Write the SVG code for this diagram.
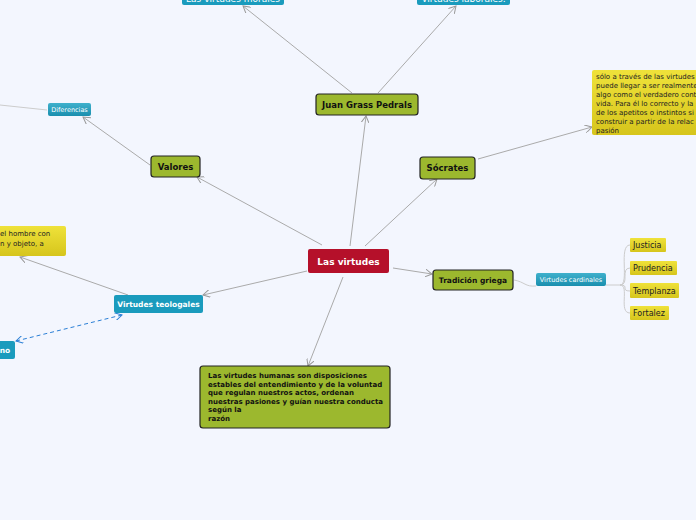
<svg xmlns="http://www.w3.org/2000/svg" width="696" height="520" viewBox="0 0 696 520">
<defs>
<marker id="a" markerWidth="8" markerHeight="8" refX="7" refY="4" orient="auto" markerUnits="userSpaceOnUse"><path d="M0,0 L7,4 L0,8" fill="none" stroke="#999" stroke-width="1"/></marker>
<marker id="b" markerWidth="8" markerHeight="8" refX="7" refY="4" orient="auto-start-reverse" markerUnits="userSpaceOnUse"><path d="M0,0 L7,4 L0,8" fill="none" stroke="#2a7fd6" stroke-width="1"/></marker>
<linearGradient id="y" x1="0" y1="0" x2="0" y2="1"><stop offset="0" stop-color="#efe23a"/><stop offset="1" stop-color="#d6c51c"/></linearGradient>
<linearGradient id="bl" x1="0" y1="0" x2="0" y2="1"><stop offset="0" stop-color="#3fb0cc"/><stop offset="1" stop-color="#1a8fae"/></linearGradient>
</defs>
<style>
text{font-family:"DejaVu Sans","Liberation Sans",sans-serif}
.g{fill:#9cb82e;stroke:#222;stroke-width:1.2}
.bt{fill:#1a9bbd}
.bs{fill:url(#bl)}
.yl{fill:url(#y)}
.c{stroke:#aaa;stroke-width:1;fill:none;marker-end:url(#a)}
.c2{stroke:#ccc;stroke-width:1;fill:none}
.tb{font-size:8.5px;font-weight:bold;fill:#111;text-anchor:middle}
.tw{font-size:7.5px;font-weight:bold;fill:#fff;text-anchor:middle}
.ts{font-size:6.5px;fill:#fff;text-anchor:middle}
.ty{font-size:8px;fill:#222}
.tn{font-size:7px;fill:#222}
</style>
<rect width="696" height="520" fill="#f3f6fe"/>
<g id="connectors">
<line class="c" x1="350" y1="246" x2="366" y2="116"/>
<line class="c" x1="365" y1="246" x2="437" y2="179"/>
<line class="c" x1="322" y1="245" x2="197" y2="177"/>
<line class="c" x1="393" y1="268" x2="432" y2="274"/>
<line class="c" x1="307" y1="271" x2="203" y2="295"/>
<line class="c" x1="343" y1="277" x2="308" y2="366"/>
<line class="c" x1="352" y1="93" x2="243" y2="6"/>
<line class="c" x1="378" y1="93" x2="456" y2="6"/>
<line class="c" x1="478" y1="159" x2="592" y2="127"/>
<line class="c" x1="150" y1="165" x2="83" y2="117"/>
<line class="c2" x1="47" y1="110" x2="0" y2="105"/>
<line class="c" x1="128" y1="295" x2="20" y2="257"/>
<line x1="122" y1="315" x2="16" y2="341" stroke="#2a7fd6" stroke-width="1" stroke-dasharray="4,3" marker-end="url(#b)" marker-start="url(#b)"/>
<path class="c2" d="M514 280 C525 282,525 287,536 286"/>
<path class="c2" d="M606 285 L620 285 C630 285,618 245,630 245"/>
<path class="c2" d="M620 285 C630 285,620 268,630 268"/>
<path class="c2" d="M620 285 C630 285,620 291,630 291"/>
<path class="c2" d="M620 285 C630 285,618 313,630 313"/>
</g>
<g id="n-center"><rect x="308" y="249" width="81" height="24" rx="2" fill="#b5102a"/><text class="tw" x="348.5" y="265" style="font-size:9px">Las virtudes</text></g>
<g id="n-juan"><rect class="g" x="316" y="94" width="102" height="21" rx="3"/><text class="tb" x="367" y="108">Juan Grass Pedrals</text></g>
<g id="n-socrates"><rect class="g" x="420" y="157" width="55" height="22" rx="3"/><text class="tb" x="447.5" y="171">Sócrates</text></g>
<g id="n-valores"><rect class="g" x="151" y="156" width="49" height="21" rx="3"/><text class="tb" x="175.5" y="170">Valores</text></g>
<g id="n-tradicion"><rect class="g" x="433" y="270" width="80" height="20" rx="3"/><text class="tb" x="473" y="283" style="font-size:7.5px">Tradición griega</text></g>
<g id="n-teologales"><rect class="bt" x="114" y="295" width="89" height="18" rx="2"/><text class="tw" x="158.5" y="307">Virtudes teologales</text></g>
<g id="n-diferencias"><rect class="bs" x="48" y="103" width="43" height="13" rx="2"/><text class="ts" x="69.5" y="112">Diferencias</text></g>
<g id="n-morales"><rect class="bt" x="182" y="-6" width="102" height="11" rx="2"/><text class="tw" x="233" y="2" style="font-weight:normal;font-size:9px">Las virtudes morales</text></g>
<g id="n-laborales"><rect class="bt" x="417" y="-6" width="93" height="11" rx="2"/><text class="tw" x="463.5" y="2" style="font-weight:normal;font-size:9px">Virtudes laborales.</text></g>
<g id="n-no"><rect class="bt" x="-30" y="341" width="45" height="18" rx="2"/><text class="tw" x="5" y="353">no</text></g>
<g id="n-note-left"><rect class="yl" x="-10" y="226" width="76" height="30" rx="2"/><text class="tn" x="0" y="236">el hombre con</text><text class="tn" x="0" y="246">n y objeto, a</text></g>
<g id="n-note-soc"><rect class="yl" x="592" y="70" width="110" height="65" rx="2"/>
<text class="tn" x="596" y="79">sólo a través de las virtudes</text>
<text class="tn" x="596" y="88">puede llegar a ser realmente</text>
<text class="tn" x="596" y="97">algo como el verdadero cont</text>
<text class="tn" x="596" y="106">vida. Para él lo correcto y la</text>
<text class="tn" x="596" y="115">de los apetitos o instintos si</text>
<text class="tn" x="596" y="124">construir a partir de la relac</text>
<text class="tn" x="596" y="133">pasión</text></g>
<g id="n-humanas"><rect class="g" x="200" y="366" width="190" height="62" rx="3"/>
<g font-size="7" font-weight="bold" fill="#111"><text x="208" y="378">Las virtudes humanas son disposiciones</text>
<text x="208" y="387">estables del entendimiento y de la voluntad</text>
<text x="208" y="395">que regulan nuestros actos, ordenan</text>
<text x="208" y="404">nuestras pasiones y guían nuestra conducta</text>
<text x="208" y="412">según la</text>
<text x="208" y="421">razón</text></g></g>
<g id="n-cardinales"><rect class="bs" x="536" y="273" width="70" height="13" rx="2"/><text class="ts" x="571" y="282">Virtudes cardinales</text></g>
<g id="n-justicia"><rect class="yl" x="630" y="238" width="36" height="14" rx="1"/><text class="ty" x="633" y="248">Justicia</text></g>
<g id="n-prudencia"><rect class="yl" x="630" y="261" width="47" height="14" rx="1"/><text class="ty" x="633" y="271">Prudencia</text></g>
<g id="n-templanza"><rect class="yl" x="630" y="283" width="49" height="15" rx="1"/><text class="ty" x="633" y="294">Templanza</text></g>
<g id="n-fortalez"><rect class="yl" x="630" y="306" width="39" height="14" rx="1"/><text class="ty" x="633" y="316">Fortalez</text></g>
</svg>
